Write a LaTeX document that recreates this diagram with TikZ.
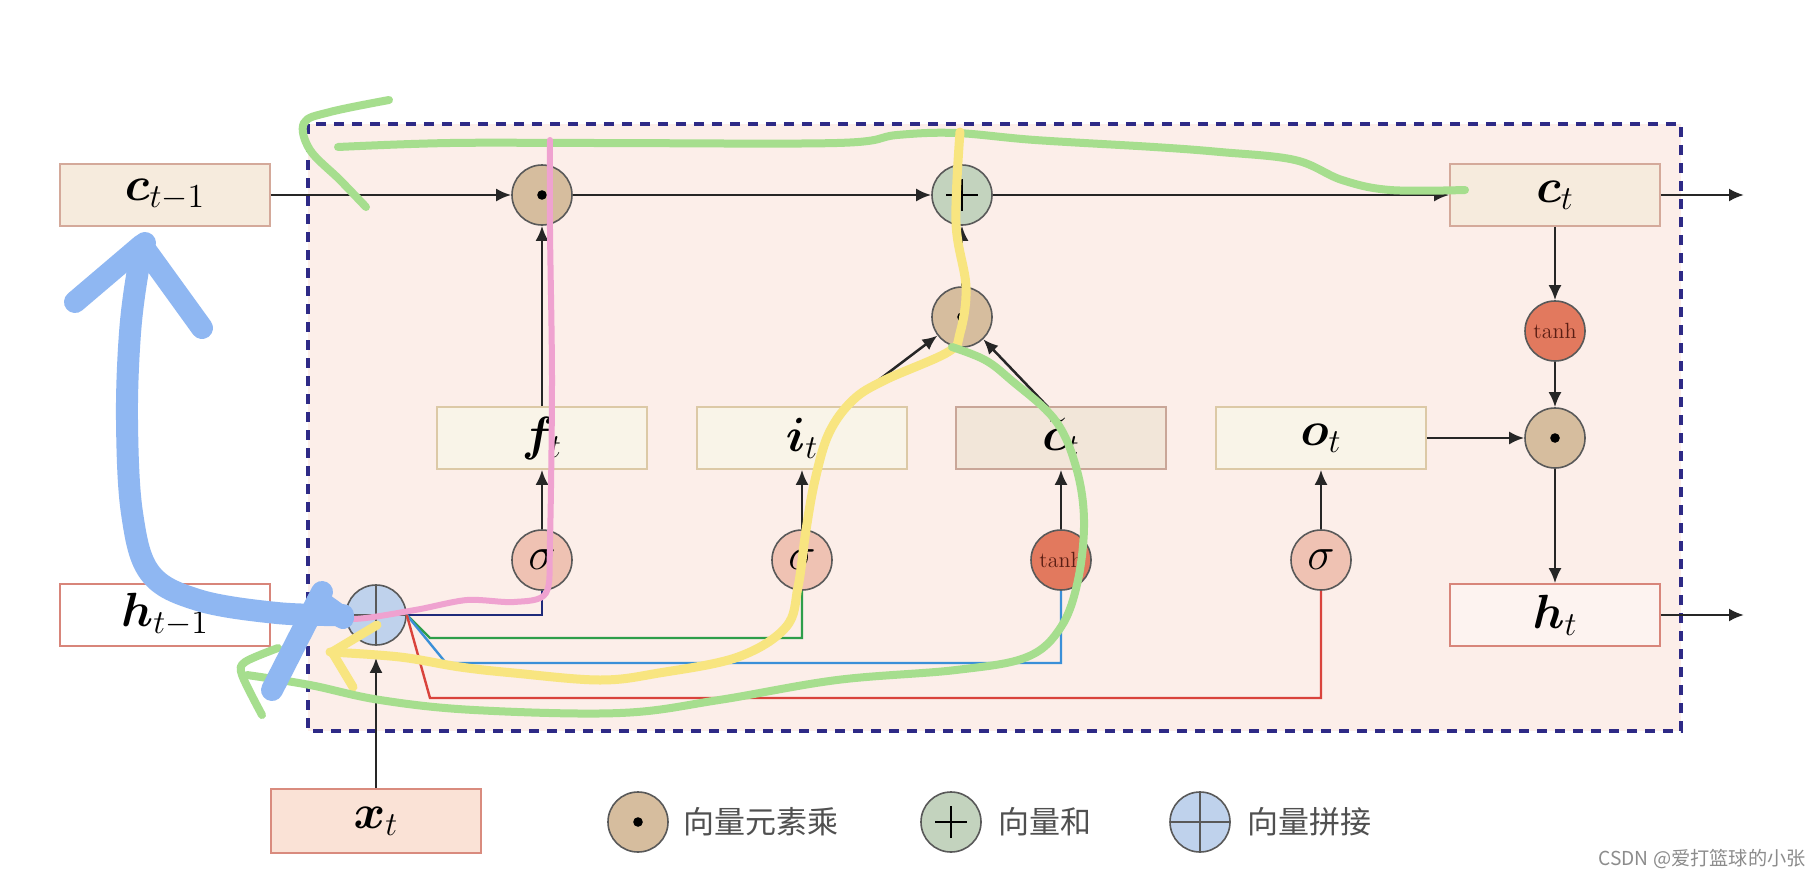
\RequirePackage{fix-cm}
\documentclass[tikz,border=0pt]{standalone}
\usepackage{fontspec}
\usepackage{bm}
\usetikzlibrary{arrows.meta}
\newfontfamily\cjk{Noto Sans CJK SC}
\definecolor{framefill}{HTML}{FCEEE9}
\definecolor{framedash}{HTML}{2E2A86}
\definecolor{cfill}{HTML}{F6EBDD}
\definecolor{cbord}{HTML}{D4A99A}
\definecolor{hfill}{HTML}{FDF3F0}
\definecolor{hbord}{HTML}{D8857A}
\definecolor{gfill}{HTML}{F9F4E8}
\definecolor{gbord}{HTML}{DCC9A6}
\definecolor{ctfill}{HTML}{F2E6D9}
\definecolor{ctbord}{HTML}{C9A698}
\definecolor{xfill}{HTML}{FAE2D6}
\definecolor{xbord}{HTML}{D98B7E}
\definecolor{mulfill}{HTML}{D6BD9E}
\definecolor{plusfill}{HTML}{C3D3BE}
\definecolor{catfill}{HTML}{BFD2EC}
\definecolor{sigfill}{HTML}{EFC2B3}
\definecolor{tanhfill}{HTML}{E2795E}
\definecolor{tanhtext}{HTML}{5A1E14}
\definecolor{circbord}{HTML}{595959}
\definecolor{linec}{HTML}{262626}
\definecolor{navyl}{HTML}{1F2A7A}
\definecolor{greenl}{HTML}{2E9E4A}
\definecolor{bluel}{HTML}{3A8FD8}
\definecolor{redl}{HTML}{D9433C}
\definecolor{lgtext}{HTML}{505050}
\definecolor{wmtext}{HTML}{8C8C8C}
\definecolor{hgreen}{HTML}{A6DE8E}
\definecolor{hyellow}{HTML}{F8E580}
\definecolor{hpink}{HTML}{EFA2D0}
\definecolor{hblue}{HTML}{8FB7F2}
\begin{document}
\begin{tikzpicture}[x=0.5pt,y=-0.5pt,
  lbl/.style={font=\fontsize{24}{28}\selectfont},
  boxbase/.style={rectangle, line width=0.8pt, minimum width=105pt, minimum height=31pt, inner sep=0pt, lbl},
  cbox/.style={boxbase, draw=cbord, fill=cfill},
  hbox/.style={boxbase, draw=hbord, fill=hfill},
  gbox/.style={boxbase, draw=gbord, fill=gfill},
  ctbox/.style={boxbase, draw=ctbord, fill=ctfill},
  xbox/.style={boxbase, draw=xbord, fill=xfill, minimum height=32pt},
  circbase/.style={circle, draw=circbord, line width=0.8pt, minimum size=30pt, inner sep=0pt},
  mulc/.style={circbase, fill=mulfill, path picture={\fill[black] (path picture bounding box.center) circle (2.4pt);}},
  plusc/.style={circbase, fill=plusfill, path picture={
     \draw[black, line width=1.1pt] ([xshift=-8pt]path picture bounding box.center) -- ([xshift=8pt]path picture bounding box.center);
     \draw[black, line width=1.1pt] ([yshift=-8pt]path picture bounding box.center) -- ([yshift=8pt]path picture bounding box.center);}},
  catc/.style={circbase, fill=catfill, path picture={
     \draw[circbord, line width=0.7pt] (path picture bounding box.north) -- (path picture bounding box.south);
     \draw[circbord, line width=0.7pt] (path picture bounding box.west) -- (path picture bounding box.east);}},
  sigc/.style={circbase, fill=sigfill, font=\fontsize{23}{27}\selectfont},
  tanhc/.style={circbase, fill=tanhfill, text=tanhtext, font=\fontsize{11}{13}\selectfont},
  arr/.style={draw=linec, line width=1.25pt, -{Latex[length=7.5pt,width=6.5pt]}},
  wire/.style={line width=1.2pt},
  lgtxt/.style={anchor=west, inner sep=0pt, text=lgtext, font=\cjk\fontsize{15.5}{18}\selectfont},
  hand/.style={line width=#1, line cap=round, line join=round},
]
\useasboundingbox (0,0) rectangle (1820,878);
\fill[white] (0,0) rectangle (1820,878);
% frame
\draw[fill=framefill, draw=framedash, line width=2pt, dash pattern=on 5pt off 4pt] (308,124) rectangle (1681,731);

% boxes
\node[cbox] (cprev) at (165,195) {$\bm{c}_{t-1}$};
\node[cbox] (ct) at (1555,195) {$\bm{c}_t$};
\node[hbox, fill=white] (hprev) at (165,615) {$\bm{h}_{t-1}$};
\node[hbox] (ht) at (1555,615) {$\bm{h}_t$};
\node[gbox] (ft) at (542,438) {$\bm{f}_t$};
\node[gbox] (it) at (802,438) {$\bm{i}_t$};
\node[ctbox] (ctil) at (1061,438) {$\tilde{\bm{c}}_t$};
\node[gbox] (ot) at (1321,438) {$\bm{o}_t$};
\node[xbox] (xt) at (376,821) {$\bm{x}_t$};

% operation circles
\node[mulc] (fmul) at (542,195) {};
\node[plusc] (plus) at (962,195) {};
\node[mulc] (imul) at (962,317) {};
\node[tanhc] (tanhc2) at (1555,331) {tanh};
\node[mulc] (omul) at (1555,438) {};
\node[sigc] (sf) at (542,560) {$\sigma$};
\node[sigc] (si) at (802,560) {$\sigma$};
\node[tanhc] (tc) at (1061,560) {tanh};
\node[sigc] (so) at (1321,560) {$\sigma$};
\node[catc] (cat) at (376,615) {};

% coordinates
\coordinate (cout) at (1744,195);
\coordinate (hout) at (1744,615);
\coordinate (ia) at (843,407);
\coordinate (ca) at (1048,407);
\coordinate (g1) at (430,638);
\coordinate (b1) at (446,663);
\coordinate (r1) at (430,698);

% black connectors
\draw[arr] (cprev) -- (fmul);
\draw[arr] (fmul) -- (plus);
\draw[arr] (plus) -- (ct);
\draw[arr] (ct.east) -- (cout);
\draw[arr] (ct) -- (tanhc2);
\draw[arr] (tanhc2) -- (omul);
\draw[arr] (ot) -- (omul);
\draw[arr] (omul) -- (ht);
\draw[arr] (ht.east) -- (hout);
\draw[arr] (ft) -- (fmul);
\draw[arr] (sf) -- (ft);
\draw[arr] (si) -- (it);
\draw[arr] (tc) -- (ctil);
\draw[arr] (so) -- (ot);
\draw[arr] (ia) -- (imul);
\draw[arr] (ca) -- (imul);
\draw[arr] (imul) -- (plus);
\draw[arr, shorten >=6pt] (xt) -- (cat);
\draw[arr] (hprev) -- (cat);

% coloured wires
\draw[wire, navyl] (cat.east) -- (cat.east -| sf.south) -- (sf.south);
\draw[wire, greenl] (cat.east) -- (g1) -- (g1 -| si.south) -- (si.south);
\draw[wire, bluel] (cat.east) -- (b1) -- (b1 -| tc.south) -- (tc.south);
\draw[wire, redl] (cat.east) -- (r1) -- (r1 -| so.south) -- (so.south);

% legend
\node[mulc] (lg1) at (638,822) {};
\node[lgtxt] (lt1) at (683,822) {向量元素乘};
\node[plusc] (lg2) at (951,822) {};
\node[lgtxt] (lt2) at (998,822) {向量和};
\node[catc] (lg3) at (1200,822) {};
\node[lgtxt] (lt3) at (1247,822) {向量拼接};

% watermark
\node[anchor=east, inner sep=0pt, text=wmtext, font=\cjk\fontsize{9.6}{12}\selectfont] (wm) at (1806,859) {CSDN @爱打篮球的小张};

% hand-drawn annotations
\draw[hand=4pt, hgreen] plot[smooth, tension=0.6] coordinates {(389,100) (330,112) (304,123) (310,150) (340,180) (366,207)};
\draw[hand=4pt, hgreen] plot[smooth, tension=0.6] coordinates {(338,147) (450,143) (600,143) (837,143) (897,135) (956,133) (1035,140) (1154,147) (1220,152) (1295,160) (1342,180) (1390,190) (1465,190)};
\draw[hand=3pt, hpink] plot[smooth, tension=0.5] coordinates {(550,140) (550,230) (552,380) (550,540) (546,593) (514,602) (467,600) (415,610) (352,619) (305,610)};
\draw[hand=3pt, hpink] (308,604) -- (323,585);
\draw[hand=4.5pt, hyellow] plot[smooth, tension=0.6] coordinates {(960,132) (956,223) (966,287) (960,333) (948,352) (885,380) (853,400) (829,433) (815,480) (806,530) (798,587) (786,627) (738,657) (659,673) (600,680) (514,673) (460,667) (400,657) (330,652)};
\draw[hand=4.5pt, hyellow] (377,625) -- (332,652) -- (353,687);
\draw[hand=4pt, hgreen] plot[smooth, tension=0.6] coordinates {(952,347) (985,360) (1011,380) (1055,420) (1076,467) (1084,520) (1078,580) (1061,627) (1027,657) (956,670) (837,680) (719,700) (620,713) (474,710) (380,700) (310,685) (247,675)};
\draw[hand=4pt, hgreen] plot[smooth, tension=0.5] coordinates {(278,648) (245,662) (242,675) (262,715)};
\draw[hand=11pt, hblue] plot[smooth, tension=0.6] coordinates {(343,615) (277,613) (198,600) (150,573) (132,513) (127,420) (130,333) (138,270) (145,243)};
\draw[hand=11pt, hblue] (75,302) -- (142,245) -- (202,328);
\draw[hand=11pt, hblue] (322,592) -- (272,690);
\draw[hand=11pt, hblue] (318,600) -- (343,618);
\end{tikzpicture}
\end{document}
